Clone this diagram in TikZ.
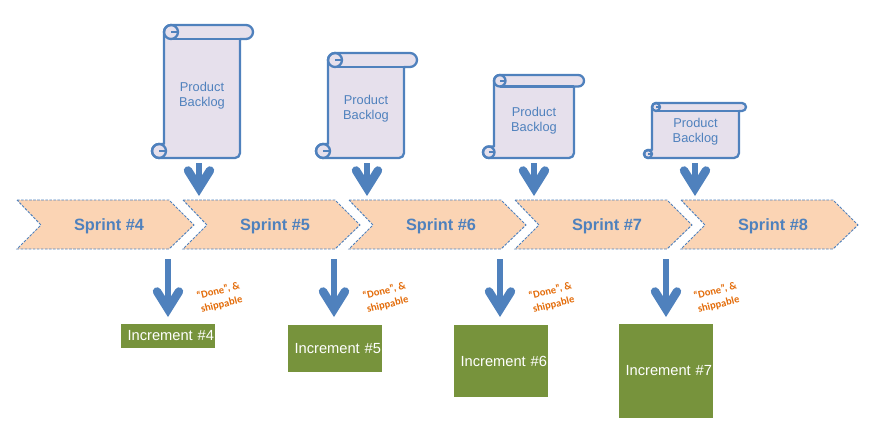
\documentclass[tikz,border=0pt]{standalone}
\usepackage{fontspec}
\setmainfont{Liberation Sans}
\newfontfamily\donefont{Carlito}
\usetikzlibrary{arrows.meta}
\definecolor{lineblue}{HTML}{4F81BD}
\definecolor{scrollfill}{HTML}{E6E0EC}
\definecolor{sprintfill}{HTML}{FBD4B4}
\definecolor{incgreen}{HTML}{77933C}
\definecolor{doneorange}{HTML}{E36C0A}
\tikzset{
  bigarrow/.style={draw=lineblue,line width=3.4pt,-{Straight Barb[length=10pt,width=12.5pt,line width=4.8pt,line cap=round,line join=miter]}},
  doneline/.style={text=doneorange,font=\donefont\bfseries\fontsize{6}{8}\selectfont,align=center,rotate=14}
}
\begin{document}
\begin{tikzpicture}[x=0.02cm,y=-0.02cm]

  \useasboundingbox (0,0) rectangle (875,430);

  % sprints
  \foreach \n/\x in {4/17,5/183,6/349,7/515,8/681} {
    \draw[fill=sprintfill,draw=lineblue,line width=0.55pt,dash pattern=on 1.5pt off 0.8pt]
      (\x,200) -- ++(152,0) -- ++(25,25) -- ++(-25,24) -- ++(-152,0) -- ++(24,-24) -- cycle;
    \node[text=lineblue,font=\fontsize{9.3}{11}\selectfont\bfseries] (sprint\n) at (\x+92,226) {Sprint \#\n};
  }

  % scrolls: left, top, body right, roll right, curl left, roll height, text y
  \foreach \n/\l/\t/\r/\e/\c/\h/\ty in {1/164/25/240/253/152/14/95.5,2/328/53/404/417/316/14/108.5,3/494/75/574/584/483/11.5/120.5,4/652/103/739/746/644/8/132} {
    \pgfmathsetmacro{\rad}{\h/2}
    \begin{scope}[line width=1.3pt,draw=lineblue,fill=scrollfill,line join=round]
      \filldraw (\l,\t+\rad) arc[start angle=180,end angle=90,radius=\rad*0.02cm]
        -- (\e-\rad,\t) arc[start angle=90,end angle=-90,radius=\rad*0.02cm]
        -- (\r,\t+\h) -- (\r,158-5) arc[start angle=0,end angle=-90,radius=0.1cm]
        -- (\c+\rad,158) arc[start angle=270,end angle=90,radius=\rad*0.02cm]
        -- (\l,158-\h) -- cycle;
      \draw (\l+\rad,\t+\h) -- (\r,\t+\h);
      \draw (\l+\rad,\t+\rad) circle[radius=\rad*0.02cm];
      \draw (\l+\rad,\t+\rad) -- (\l+\h,\t+\rad);
      \draw (\c+\rad,158-\rad) circle[radius=\rad*0.02cm];
      \draw (\c+\rad,158-\rad) -- (\c+\h,158-\rad);
    \end{scope}
    \node[text=lineblue,font=\fontsize{7.3}{8.5}\selectfont,align=center] (backlog\n) at ({(\l+\r)/2},\ty) {Product\\Backlog};
  }

  % arrows into the sprints
  \foreach \n/\x in {1/199,2/367,3/534,4/695} {
    \coordinate (in\n) at (\x,163);
    \coordinate (out\n) at (\x,196);
    \draw[bigarrow] (in\n) -- (out\n);
  }

  % increments
  \begin{scope}[every node/.style={fill=incgreen,text=white,minimum width=94*0.02cm,inner sep=0pt,font=\fontsize{8.35}{10}\selectfont,text width=94*0.02cm-0.04cm,align=right}]
    \node[minimum height=24*0.02cm] (inc4) at (168,336) {Increment \#4};
    \node[minimum height=47*0.02cm] (inc5) at (335,348.5) {Increment \#5};
    \node[minimum height=72*0.02cm] (inc6) at (501,361) {Increment \#6};
    \node[minimum height=94*0.02cm] (inc7) at (666,371) {Increment \#7};
  \end{scope}

  % arrows out of the sprints
  \foreach \n/\x in {4/168,5/334,6/500,7/666} {
    \coordinate (from\n) at (\x,259);
    \coordinate (to\n) at (\x,317);
    \draw[bigarrow] (from\n) -- (to\n);
  }

  % done labels
  \foreach \n/\x in {4/220,5/386,6/552,7/717} {
    \node[doneline] (done\n) at (\x,298) {“Done”, \&\\shippable};
  }

\end{tikzpicture}
\end{document}
